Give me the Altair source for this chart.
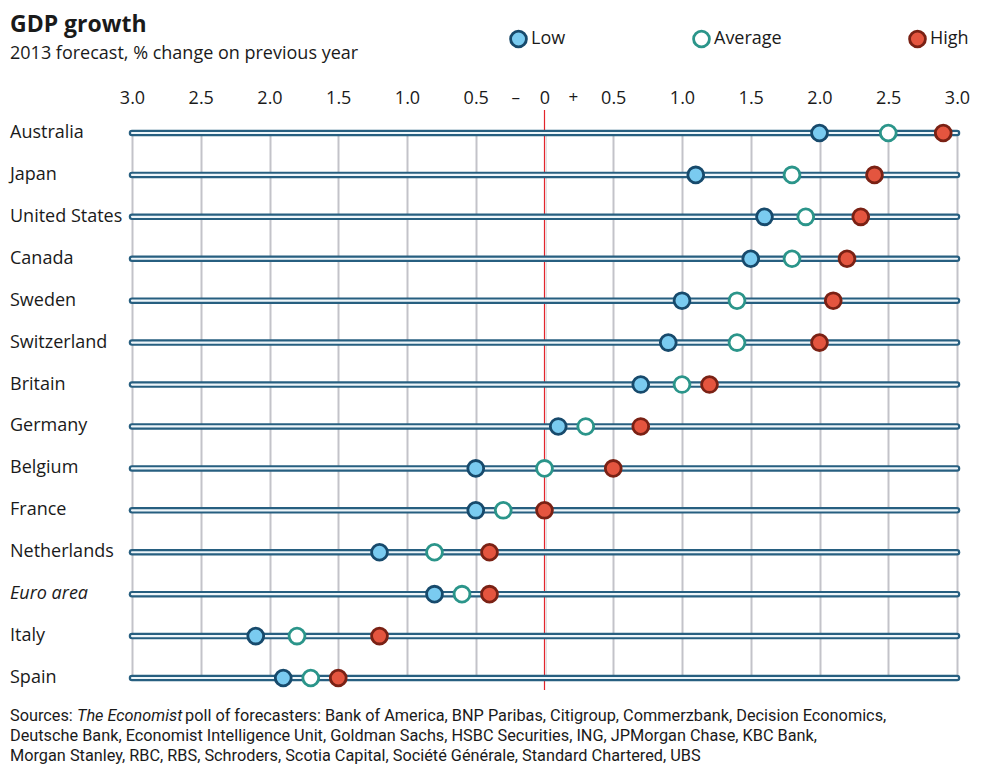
import altair as alt
import pandas as pd

countries = ["Australia", "Japan", "United States", "Canada", "Sweden", "Switzerland",
             "Britain", "Germany", "Belgium", "France", "Netherlands", "Euro area",
             "Italy", "Spain"]
low = [2.0, 1.1, 1.6, 1.5, 1.0, 0.9, 0.7, 0.1, -0.5, -0.5, -1.2, -0.8, -2.1, -1.9]
avg = [2.5, 1.8, 1.9, 1.8, 1.4, 1.4, 1.0, 0.3, 0.0, -0.3, -0.8, -0.6, -1.8, -1.7]
high = [2.9, 2.4, 2.3, 2.2, 2.1, 2.0, 1.2, 0.7, 0.5, 0.0, -0.4, -0.4, -1.2, -1.5]
series = ["Low", "Average", "High"]
tick_values = [-3, -2.5, -2, -1.5, -1, -0.5, 0, 0.5, 1, 1.5, 2, 2.5, 3]
zero_line = [0]
sign_labels = ["–", "+"]
sign_pos = [-0.21, 0.21]
track_start = -3.0
track_end = 3.0

title = "GDP growth"
subtitle = "2013 forecast, % change on previous year"
src_a = "Sources:"
src_b = "The Economist"
src_c = "poll of forecasters: Bank of America, BNP Paribas, Citigroup, Commerzbank, Decision Economics,"
src_rest = ("Deutsche Bank, Economist Intelligence Unit, Goldman Sachs, HSBC Securities, ING, JPMorgan Chase, KBC Bank,\n"
            "Morgan Stanley, RBC, RBS, Schroders, Scotia Capital, Société Générale, Standard Chartered, UBS")

FONT = "Open Sans"
NARROW = "Roboto"
TXT = "#1a1a1a"

rows = pd.DataFrame({"country": countries,
                     "start": [track_start] * len(countries),
                     "end": [track_end] * len(countries)})
pts = pd.DataFrame(
    [{"country": c, "series": s, "value": v, "order": i}
     for i, (s, vals) in enumerate(zip(series, [low, avg, high]))
     for c, v in zip(countries, vals)]
)
signs = pd.DataFrame({"label": sign_labels, "pos": sign_pos})
zero_df = pd.DataFrame({"v": zero_line})

yenc = alt.Y("country:N", sort=countries,
             scale=alt.Scale(type="point", range=[23, 568], padding=0), axis=None)
xscale = alt.Scale(domain=[-3, 3], nice=False, zero=False)

xaxis = alt.Axis(
    orient="top", values=tick_values, title=None, domain=False, ticks=False,
    labelExpr="datum.value == 0 ? '0' : format(abs(datum.value), '.1f')",
    labelFont=FONT, labelFontSize=18, labelColor=TXT, labelPadding=3,
    labelFlush=False, labelOverlap=False,
    grid=True, gridColor="#c3c3c9", gridWidth=2,
)

zero_bg = alt.Chart(zero_df).mark_rule(color="white", strokeWidth=2.6).encode(
    x=alt.X("v:Q", scale=xscale, axis=xaxis))
zero_red = alt.Chart(zero_df).mark_rule(color="#e3242b", strokeWidth=1.2).encode(
    x=alt.X("v:Q", scale=xscale, axis=xaxis))

track_outer = alt.Chart(rows).mark_rule(color="#275f80", strokeWidth=6.5, strokeCap="round").encode(
    x=alt.X("start:Q", scale=xscale, axis=xaxis), x2="end:Q", y=yenc)
track_inner = alt.Chart(rows).mark_rule(color="#eef6fa", strokeWidth=2.2, strokeCap="round").encode(
    x=alt.X("start:Q", scale=xscale, axis=xaxis), x2="end:Q", y=yenc)

leg = dict(title=None, orient="none", legendX=377, legendY=-81, direction="horizontal",
           columnPadding=121, symbolSize=250, symbolStrokeWidth=2.8, symbolType="circle",
           labelFont=FONT, labelFontSize=18, labelColor=TXT, labelOffset=3, padding=0)

points = alt.Chart(pts).mark_point(filled=True, size=250, strokeWidth=2.8, shape="circle",
                                   opacity=1, fillOpacity=1, strokeOpacity=1).encode(
    x=alt.X("value:Q", scale=xscale, axis=xaxis),
    y=yenc,
    fill=alt.Fill("series:N", scale=alt.Scale(domain=series, range=["#7acbf0", "#ffffff", "#e4553f"]),
                  legend=alt.Legend(**leg)),
    stroke=alt.Stroke("series:N", scale=alt.Scale(domain=series, range=["#174a6c", "#2b958a", "#7a2114"]),
                      legend=alt.Legend(**leg)),
    order=alt.Order("order:Q"),
)

labels = alt.Chart(rows).transform_filter("datum.country != 'Euro area'").mark_text(
    align="left", baseline="middle", font=FONT, fontSize=18, color=TXT).encode(
    x=alt.value(-122), y=yenc, text="country:N")
labels_it = alt.Chart(rows).transform_filter("datum.country == 'Euro area'").mark_text(
    align="left", baseline="middle", font=FONT, fontSize=18, fontStyle="italic", color=TXT).encode(
    x=alt.value(-122), y=yenc, text="country:N")

sign_text = alt.Chart(signs).mark_text(baseline="bottom", font=FONT, fontSize=17, color=TXT).encode(
    x=alt.X("pos:Q", scale=xscale, axis=xaxis), y=alt.value(-3), text="label:N")


def txt(s, x, y, **kw):
    return alt.Chart(pd.DataFrame({"t": [s]})).mark_text(align="left", color=TXT, **kw).encode(
        x=alt.value(x), y=alt.value(y), text="t:N")


t_title = txt(title, -122, -78, baseline="alphabetic", font=FONT, fontSize=23, fontWeight="bold")
t_sub = txt(subtitle, -122, -56, baseline="middle", font=FONT, fontSize=18)
s_a = txt(src_a, -122, 606, baseline="middle", font=NARROW, fontSize=16.3)
s_b = txt(src_b, -55, 606, baseline="middle", font=NARROW, fontSize=16.3, fontStyle="italic")
s_c = txt(src_c, 53, 606, baseline="middle", font=NARROW, fontSize=16.3)
s_rest = alt.Chart(pd.DataFrame({"t": [src_rest]})).mark_text(
    align="left", baseline="middle", lineBreak="\n", lineHeight=20, font=NARROW, fontSize=16.3, color=TXT
).encode(x=alt.value(-122), y=alt.value(626), text="t:N")

chart = alt.layer(
    zero_bg, zero_red, track_outer, track_inner, points, labels, labels_it, sign_text,
    t_title, t_sub, s_a, s_b, s_c, s_rest
).properties(
    width=825, height=580,
    autosize=alt.AutoSizeParams(type="none"),
    padding={"left": 124, "top": 102, "right": 24, "bottom": 74},
).configure(background="white").configure_view(stroke=None)

chart.save("out.html", embed_options={"renderer": "svg", "actions": False})
